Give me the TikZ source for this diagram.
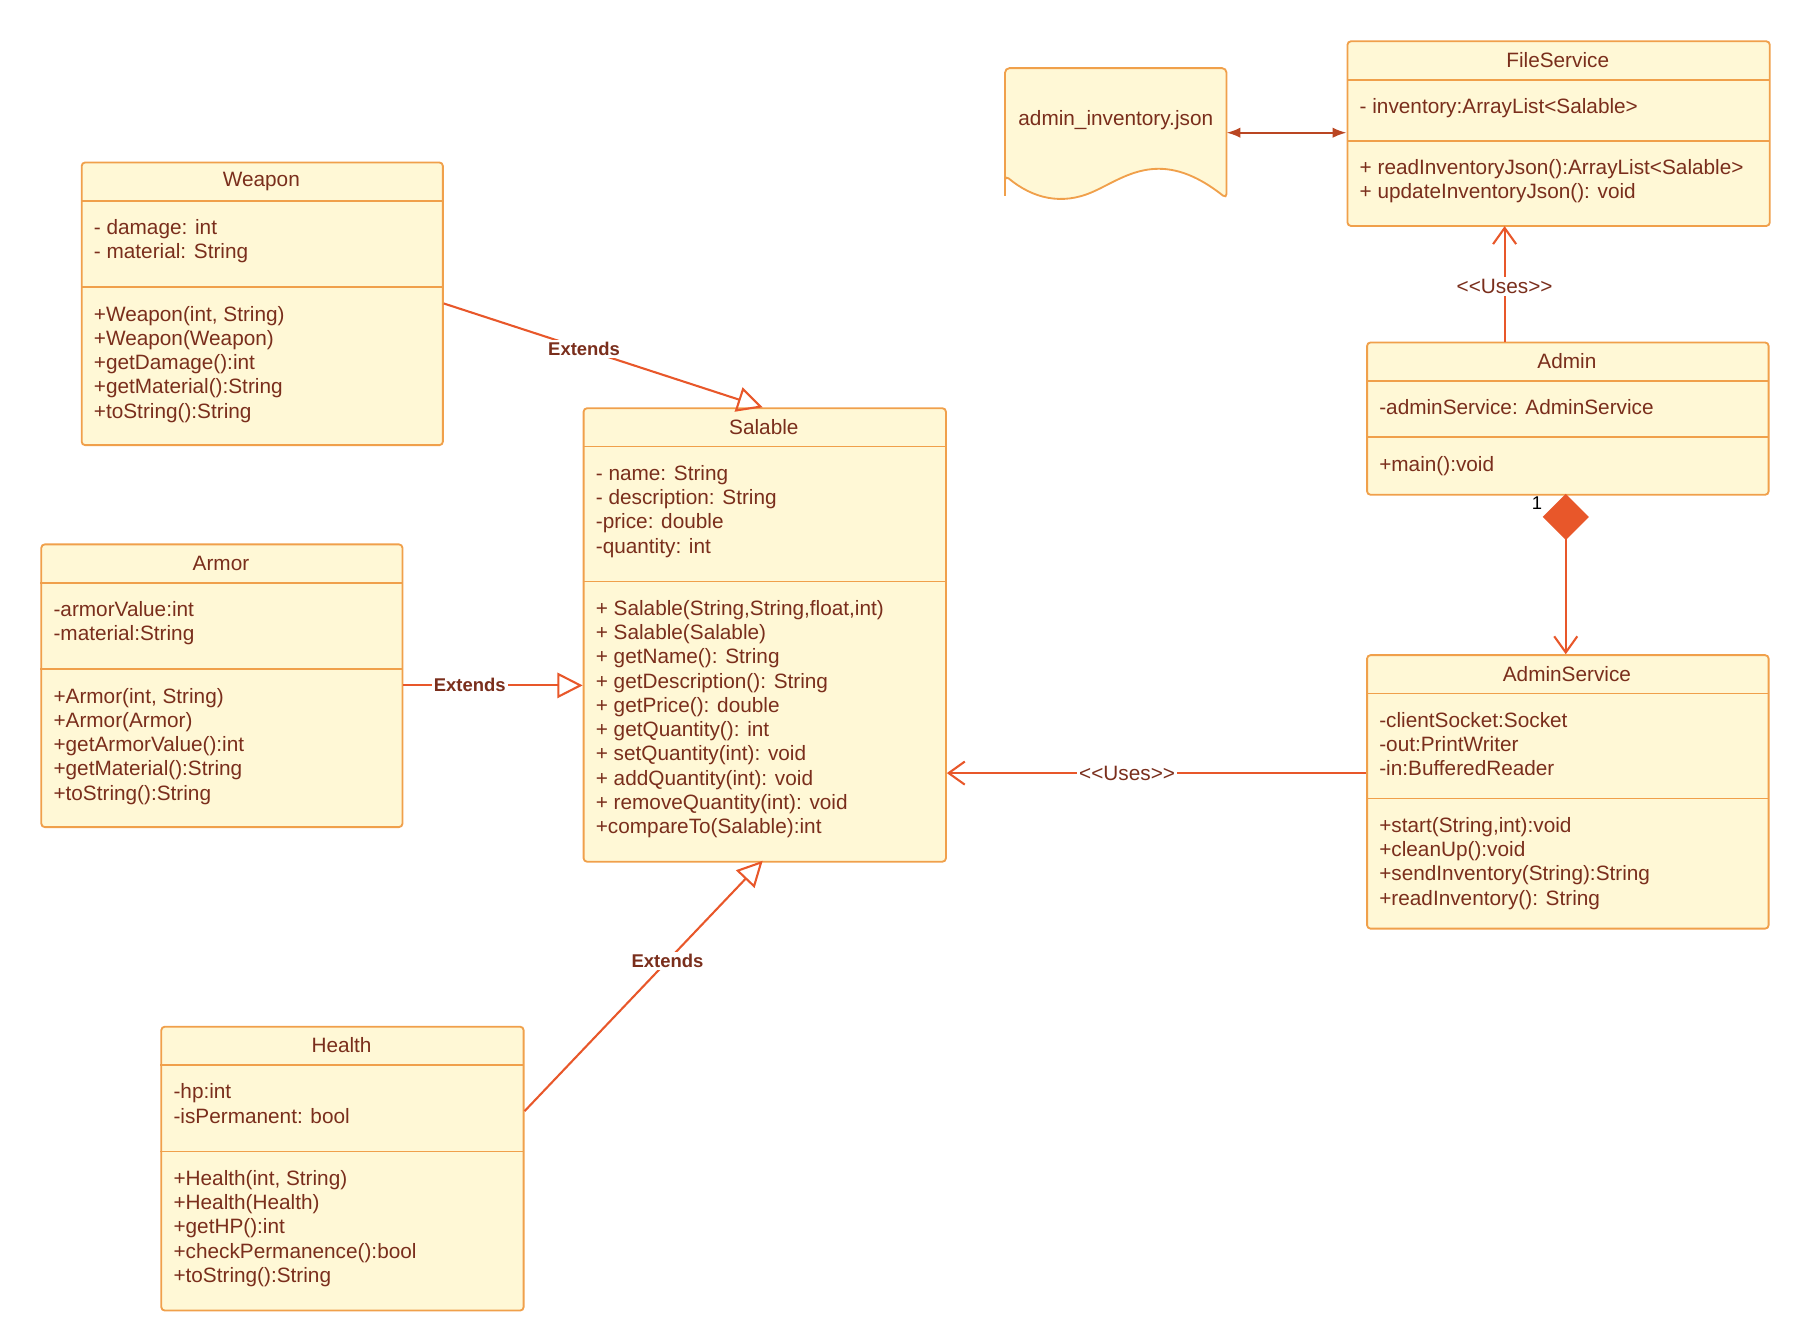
\documentclass[tikz,border=0pt]{standalone}
\usepackage{fontspec}
\setmainfont{Liberation Sans}
\usetikzlibrary{arrows.meta}
\definecolor{bd}{HTML}{F0A04B}
\definecolor{fl}{HTML}{FFF8D6}
\definecolor{tx}{HTML}{7A2E1C}
\definecolor{ln}{HTML}{E8572A}
\begin{document}
\begin{tikzpicture}[x=0.5pt,y=-0.5pt,
 box/.style={draw=bd,fill=fl,line width=0.8pt,rounded corners=1.5pt,inner sep=0pt},
 sep/.style={draw=bd,line width=0.8pt},
 ttl/.style={text=tx,font=\fontsize{9}{10.5}\selectfont},
 txt/.style={text=tx,font=\fontsize{9}{10.5}\selectfont,anchor=north west,align=left,inner sep=0pt},
 con/.style={draw=ln,line width=0.9pt},
 ext/.style={con,-{Triangle[open,length=11pt,width=11pt]}},
 use/.style={con,-{Straight Barb[length=7pt,width=10pt]}},
 lbl/.style={text=tx,fill=white,inner sep=1pt,font=\fontsize{8}{9}\selectfont\bfseries},
 ulbl/.style={text=tx,fill=white,inner sep=1pt,font=\fontsize{9}{10}\selectfont}]
\useasboundingbox (0,0) rectangle (1560,1164);
\newcommand{\uclass}[9]{% name x1 y1 x2 y2 sep1 sep2 attrs methods
 \node[box,minimum width=(#4-#2)*0.5pt,minimum height=(#5-#3)*0.5pt,anchor=north west] (#1) at (#2,#3) {};
 \draw[sep] (#2,#6) -- (#4,#6); \draw[sep] (#2,#7) -- (#4,#7);
 \node[ttl] (#1t) at ({(#2+#4)/2},{(#3+#6)/2}) {#1};
 \node[txt] (#1a) at (#2+11,#6+16) {#8};
 \node[txt] (#1m) at (#2+11,#7+16) {#9};}
\uclass{Weapon}{70}{140}{383}{385}{174}{249}{- damage: int\\- material: String}{+Weapon(int, String)\\+Weapon(Weapon)\\+getDamage():int\\+getMaterial():String\\+toString():String}
\uclass{Armor}{35}{471}{348}{716}{505}{580}{-armorValue:int\\-material:String}{+Armor(int, String)\\+Armor(Armor)\\+getArmorValue():int\\+getMaterial():String\\+toString():String}
\uclass{Health}{139}{889}{453}{1135}{923}{998}{-hp:int\\-isPermanent: bool}{+Health(int, String)\\+Health(Health)\\+getHP():int\\+checkPermanence():bool\\+toString():String}
\uclass{Salable}{505}{353}{819}{746}{387}{504}{- name: String\\- description: String\\-price: double\\-quantity: int}{+ Salable(String,String,float,int)\\+ Salable(Salable)\\+ getName(): String\\+ getDescription(): String\\+ getPrice(): double\\+ getQuantity(): int\\+ setQuantity(int): void\\+ addQuantity(int): void\\+ removeQuantity(int): void\\+compareTo(Salable):int}
\uclass{FileService}{1167}{35}{1533}{195}{69}{122}{- inventory:ArrayList<Salable>}{+ readInventoryJson():ArrayList<Salable>\\+ updateInventoryJson(): void}
\uclass{Admin}{1184}{296}{1532}{428}{330}{379}{-adminService: AdminService}{+main():void}
\uclass{AdminService}{1184}{567}{1532}{804}{601}{692}{-clientSocket:Socket\\-out:PrintWriter\\-in:BufferedReader}{+start(String,int):void\\+cleanUp():void\\+sendInventory(String):String\\+readInventory(): String}
% document
\draw[box,rounded corners=2pt] (871,172) -- (871,59) -- (1063,59) -- (1063,172) .. controls (1010,130) and (980,150) .. (950,165) .. controls (920,178) and (895,172) .. (871,152) -- cycle;
\node[ttl] (doc) at (967,104) {admin\_inventory.json};
\coordinate (docR) at (1063,115);
\coordinate (fsL) at (1167,115);
\draw[draw=ln!80!black,line width=0.9pt,{Latex[length=6pt]}-{Latex[length=6pt]}] (docR) -- (fsL);
% extends
\draw[ext] (Weapon.east |- 0,263) -- node[lbl,pos=0.44]{Extends} (661,353);
\draw[ext] (Armor.east |- 0,594) -- node[lbl,pos=0.37]{Extends} (Salable.west |- 0,594);
\draw[ext] (Health.east |- 0,963) -- node[lbl,pos=0.6]{Extends} (661,746);
% uses
\draw[use] (AdminService.west |- 0,670) -- node[ulbl,pos=0.57]{<{}<Uses>{}>} (Salable.east |- 0,670);
\draw[use] (1304,296) -- node[ulbl,pos=0.48]{<{}<Uses>{}>} (1304,196);
\draw[con,{Diamond[fill=ln,length=20pt,width=20pt]}-{Straight Barb[length=7pt,width=10pt]}] (1357,428) -- (1357,567);
\node[font=\fontsize{8}{9}\selectfont] at (1332,436) {1};
\end{tikzpicture}
\end{document}
